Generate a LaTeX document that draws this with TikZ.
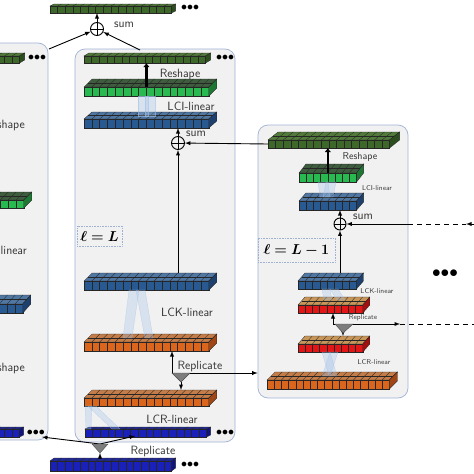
\documentclass[tikz,border=0pt]{standalone}
\usepackage{bm}
\usetikzlibrary{arrows.meta}

\definecolor{dgF}{RGB}{62,104,42}
\definecolor{dgT}{RGB}{82,122,58}
\definecolor{dgS}{RGB}{44,78,30}
\definecolor{lgF}{RGB}{40,185,80}
\definecolor{lgT}{RGB}{62,92,62}
\definecolor{lgS}{RGB}{30,120,52}
\definecolor{blF}{RGB}{40,90,145}
\definecolor{blT}{RGB}{80,118,162}
\definecolor{blS}{RGB}{30,64,108}
\definecolor{orF}{RGB}{218,102,30}
\definecolor{orT}{RGB}{196,124,72}
\definecolor{orS}{RGB}{160,70,20}
\definecolor{rdF}{RGB}{226,22,22}
\definecolor{rdT}{RGB}{200,150,88}
\definecolor{rdS}{RGB}{160,16,16}
\definecolor{nvF}{RGB}{26,32,186}
\definecolor{nvT}{RGB}{34,42,150}
\definecolor{nvS}{RGB}{16,20,128}
\definecolor{panelbg}{RGB}{241,241,242}
\definecolor{paneledge}{RGB}{160,178,212}
\definecolor{bandblue}{RGB}{160,192,232}
\definecolor{replgray}{RGB}{125,125,125}

\begin{document}
\begin{tikzpicture}
[
x=1pt,y=-1pt,
pointerpath/.style={black,->,>=latex,draw,line width=0.9pt},
reshapearrow/.style={black,-{Latex[length=4pt,width=6.5pt]},line width=2.4pt},
dashline/.style={black,dash pattern=on 5pt off 4pt,line width=1pt},
panel/.style={draw=paneledge,fill=panelbg,rounded corners=10pt,line width=0.7pt},
barnode/.style={inner sep=0,outer sep=0,anchor=north west},
cube/.style={draw=black!85,line width=0.3pt},
band/.style={fill=bandblue,fill opacity=0.3,draw=bandblue,draw opacity=0.6,line width=0.3pt},
sumop/.style={circle,draw,line width=0.9pt,minimum size=13pt,inner sep=0,
  path picture={\draw[line width=0.9pt] (path picture bounding box.north) -- (path picture bounding box.south)
    (path picture bounding box.west) -- (path picture bounding box.east);}},
repl/.style={fill=replgray,draw=black!70,line width=0.4pt},
lbl/.style={font=\sffamily\large,inner sep=0,text=black!80},
smalllbl/.style={font=\sffamily\scriptsize,inner sep=0,text=black!75},
levelbox/.style={draw=paneledge,densely dotted,line width=0.6pt,inner sep=1pt,
  font=\fontsize{15}{18}\selectfont},
dots/.style={font=\large,inner sep=0}
]
\useasboundingbox (0,0) rectangle (474,474);
\clip (0,0) rectangle (474,474);

% row of cubes: name, front top-left, cells, cell width, height, depth x, depth y, colour
\def\tensorrow#1#2#3#4#5#6#7#8{
  \node[barnode,minimum width=#3*#4pt,minimum height=#5pt] (#1) at (#2) {};
  \path ([yshift=#7pt]#1.north) coordinate (#1t);
  \draw[cube,fill=#8T] (#1.north west) -- ++(#6,-#7) -- ++(#3*#4,0) -- (#1.north east) -- cycle;
  \foreach \k [evaluate=\k as \xo using \k*#4] in {1,...,#3}
    \draw[cube] (#1.north west) ++(\xo,0) -- ++(#6,-#7);
  \ifdim#7pt>5pt \draw[cube] (#1.north west) ++(#6/2,-#7/2) -- ++(#3*#4,0); \fi
  \foreach \k [evaluate=\k as \xo using (\k-1)*#4] in {1,...,#3}
    \draw[cube,fill=#8F] (#1.north west) ++(\xo,0) rectangle ++(#4,#5);
  \draw[cube,fill=#8S] (#1.north east) -- ++(#6,-#7) -- ++(0,#5) -- ++(-#6,#7) -- cycle;
}

% panels
\node[panel,minimum width=78pt,minimum height=397pt] (panelL) at (9,241.5) {};
\node[panel,minimum width=160pt,minimum height=393pt] (panelM) at (155,245.5) {};
\node[panel,minimum width=150pt,minimum height=273pt] (panelR) at (333,261.5) {};

% output on top
\tensorrow{gT}{50,6}{16}{7.6}{7}{4}{2}{dg}
\node[dots] (dotsT) at (190,8) {${\bullet}{\bullet}{\bullet}$};
\node[sumop] (s0) at (97,29) {};
\node[lbl] (sum0) at (124,25) {sum};
\coordinate (outL) at (49,49);
\coordinate (outM) at (140,50);
\draw[pointerpath] (s0.north) -- (s0 |- gT.south);
\draw[pointerpath] (outL) -- (s0);
\draw[pointerpath] (outM) -- (s0);

% left level (cut off)
\tensorrow{gL1}{-102,56}{16}{7.6}{7}{5}{3}{dg}
\node[dots] (dotsL1) at (37,58) {${\bullet}{\bullet}{\bullet}$};
\node[lbl,anchor=east] (rsL1) at (25,125) {Reshape};
\tensorrow{gL2}{-101,200}{16}{7.8}{8}{8}{8}{lg}
\node[lbl,anchor=east] (lciL) at (27,250) {LCI-linear};
\tensorrow{bL}{-102,304}{16}{7.8}{9}{8}{9}{bl}
\node[lbl,anchor=east] (rsL2) at (25,368) {Reshape};
\tensorrow{nL}{-102,429}{16}{7.6}{8}{4}{2}{nv}
\node[dots] (dotsL2) at (36,433) {${\bullet}{\bullet}{\bullet}$};

% level l = L
\tensorrow{gM1}{84,56}{16}{7.6}{7}{5}{3}{dg}
\node[dots] (dotsM1) at (225,58) {${\bullet}{\bullet}{\bullet}$};
\tensorrow{gM2}{84,87}{16}{7.8}{9}{8}{8}{lg}
\draw[reshapearrow] (gM2.north) -- (gM2.north |- gM1.south);
\node[lbl] (rsM) at (180,74) {Reshape};
\tensorrow{bM1}{84,119}{16}{7.8}{9}{8}{7}{bl}
\fill[band] (138,96) -- (148,96) -- (148,116) -- (138,116) -- cycle;
\fill[band] (145,96) -- (155,96) -- (155,116) -- (145,116) -- cycle;
\node[lbl] (lciM) at (191,106) {LCI-linear};
\node[sumop] (sM) at (178,143) {};
\node[lbl] (sumM) at (196,134) {sum};
\node[levelbox,minimum width=45pt,minimum height=20pt] (lvM) at (99.5,236) {$\bm{\ell = L}$};
\tensorrow{bM2}{84,281}{16}{7.8}{9}{8}{8}{bl}
\draw[pointerpath] (sM) -- (sM |- bM1.south);
\draw[pointerpath] (sM |- bM2t) -- (sM);
\tensorrow{oM1}{84,342}{16}{7.8}{9}{8}{8}{or}
\fill[band] (129,290) -- (139,290) -- (132,338) -- (123,338) -- cycle;
\fill[band] (136,290) -- (145,290) -- (153,338) -- (145,338) -- cycle;
\node[lbl] (lckM) at (187,312) {LCK-linear};
\tensorrow{oM2}{84,398}{16}{7.8}{8}{8}{8}{or}
\coordinate (rM1) at (172,373);
\coordinate (rM2) at (181,382);
\draw[pointerpath] (rM1) -- (rM1 |- oM1.south);
\draw[pointerpath] (rM1) -- (rM1 -| panelR.west);
\draw[pointerpath] (rM2) -- (rM2 |- oM2t);
\filldraw[repl] (rM1) -- ++(18,0) -- (rM2) -- cycle;
\node[lbl] (repM) at (200,366) {Replicate};
\tensorrow{nM}{85,429}{16}{7.6}{8}{4}{2}{nv}
\fill[band] (85,406) -- (92,406) -- (91,429) -- (86,429) -- cycle;
\fill[band] (88,406) -- (96,406) -- (120,429) -- (112,429) -- cycle;
\node[lbl] (lcrM) at (172,419) {LCR-linear};
\node[dots] (dotsM2) at (225,433) {${\bullet}{\bullet}{\bullet}$};

% input at the bottom
\tensorrow{nB}{50,461}{16}{7.6}{10}{4}{3}{nv}
\node[dots] (dotsB) at (190,465) {${\bullet}{\bullet}{\bullet}$};
\coordinate (rB0) at (100,444);
\coordinate (rB2) at (100,453);
\coordinate (inL) at (42,437);
\coordinate (inM) at (135,436);
\draw[pointerpath] (rB2 |- nBt) -- (rB2);
\draw[pointerpath] (rB0) -- (inL);
\draw[pointerpath] (rB0) -- (inM);
\filldraw[repl] (rB0) ++(-8,0) -- ++(16,0) -- (rB2) -- cycle;
\node[lbl] (repB) at (153,451) {Replicate};

% level l = L-1
\tensorrow{gR1}{268,140}{16}{7.6}{8}{10}{8}{dg}
\draw[pointerpath] (gR1.west) -- (sM);
\tensorrow{gR2}{299,173}{8}{7.2}{9}{7}{9}{lg}
\draw[reshapearrow] (gR2.north) -- (gR2.north |- gR1.south);
\node[font=\sffamily,inner sep=0,text=black!80] (rsR) at (360,157) {Reshape};
\tensorrow{bR1}{299,201}{8}{7.2}{9}{7}{8}{bl}
\fill[band] (318,182) -- (328,182) -- (330,197) -- (320,197) -- cycle;
\fill[band] (326,182) -- (336,182) -- (333,197) -- (323,197) -- cycle;
\node[smalllbl] (lciR) at (377,188) {LCI-linear};
\node[sumop,minimum size=12pt] (sR) at (340,224) {};
\node[lbl] (sumR) at (363,217) {sum};
\coordinate (dT1) at (panelR.east |- sR);
\coordinate (dT2) at (466,224);
\coordinate (dT3) at (480,224);
\draw[pointerpath] (dT1) -- (sR);
\draw[dashline] (dT1) -- (dT2);
\draw[pointerpath] (dT3) -- (dT2);
\node[levelbox,minimum width=77pt,minimum height=24pt] (lvR) at (296.5,250) {$\bm{\ell = L-1}$};
\tensorrow{bR2}{298,281}{8}{7.3}{8}{7}{8}{bl}
\draw[pointerpath] (sR) -- (sR |- bR1.south);
\draw[pointerpath] (sR |- bR2t) -- (sR);
\node[smalllbl] (lckR) at (377,291) {LCK-linear};
\tensorrow{rdR1}{298,305}{9}{7.2}{8}{7}{8}{rd}
\fill[band] (322,289) -- (330,289) -- (332,300) -- (324,300) -- cycle;
\fill[band] (330,289) -- (338,289) -- (345,300) -- (337,300) -- cycle;
\tensorrow{rdR2}{298,344}{9}{7.2}{8}{7}{8}{rd}
\coordinate (rR1) at (333,324);
\coordinate (rR2) at (343,333);
\coordinate (dB1) at (400,324);
\coordinate (dB2) at (480,324);
\draw[pointerpath] (rR1) -- (rR1 |- rdR1.south);
\draw[pointerpath] (rR1) -- (dB1);
\draw[dashline] (dB1) -- (dB2);
\draw[pointerpath] (rR2) -- (rR2 |- rdR2t);
\filldraw[repl] (rR1) ++(2,0) -- ++(18,0) -- (rR2) -- cycle;
\node[smalllbl] (repR) at (363,318) {Replicate};
\tensorrow{oR}{267,380}{17}{7.2}{9}{8}{8}{or}
\fill[band] (322,352) -- (330,352) -- (337,376) -- (329,376) -- cycle;
\fill[band] (330,352) -- (338,352) -- (330,376) -- (322,376) -- cycle;
\node[smalllbl] (lcrR) at (374,362) {LCR-linear};

\node[dots,font=\LARGE] (dotsMid) at (445,274) {${\bullet}{\bullet}{\bullet}$};

\end{tikzpicture}
\end{document}
